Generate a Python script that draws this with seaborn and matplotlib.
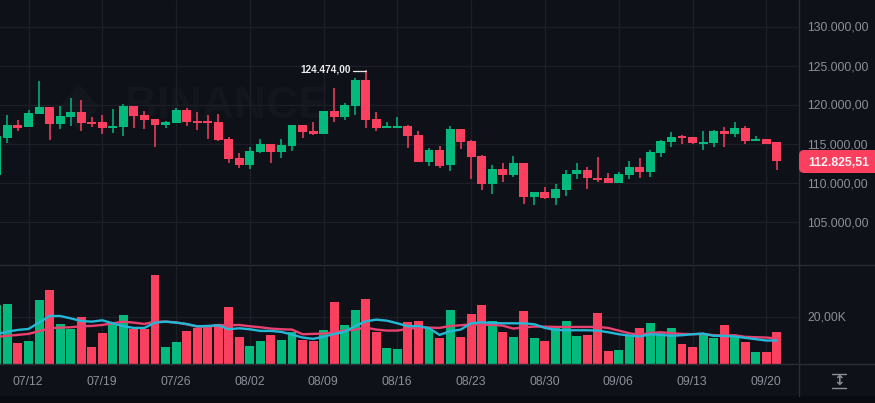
import numpy as np
import pandas as pd
import matplotlib.pyplot as plt
from matplotlib.patches import FancyBboxPatch, Polygon
import seaborn as sns

# dados (BTC diario)
opens = [111030, 115812, 117478, 117222, 118846, 119744, 117607, 118419, 119060, 117863,
         117778, 117094, 117179, 119872, 118675, 118248, 117393, 117735, 119359, 117948,
         117906, 117778, 115683, 113248, 112350, 114017, 115000, 113974, 114786, 117436,
         116624, 116282, 119231, 118462, 119914, 123206, 118205, 117051, 117051, 117350,
         116153, 112692, 114230, 112307, 116880, 115384, 113418, 109914, 111751, 111025,
         112521, 108247, 108802, 108120, 109101, 111110, 111623, 110683, 110597, 110042,
         110982, 112008, 111409, 113803, 115299, 115982, 115854, 115042, 115170, 116709,
         116239, 117008, 115384, 115640, 115213]
closes = [116000, 117436, 117094, 118932, 119744, 117607, 118547, 119060, 117735, 117607,
          117094, 117265, 119872, 118547, 118120, 117436, 117820, 119359, 117863, 117735,
          117650, 115512, 113076, 112307, 114145, 115000, 113974, 114914, 117436, 116495,
          116239, 119231, 118462, 120043, 123206, 118077, 117094, 117308, 117308, 116025,
          112692, 114273, 112221, 116880, 115256, 113333, 109914, 111751, 111068, 112521,
          108247, 108802, 108120, 109187, 111196, 111666, 110597, 110426, 110000, 111110,
          112008, 111367, 113931, 115384, 115940, 115726, 115085, 115256, 116709, 116282,
          117008, 115427, 115598, 115042, 112825]
highs = [116000, 118718, 118077, 119359, 123077, 119744, 119915, 120855, 120641, 118419,
         118718, 119487, 120086, 119872, 119274, 118248, 117991, 119573, 119658, 119103,
         118675, 118846, 115854, 113888, 114658, 115641, 115000, 115641, 117436, 117436,
         117820, 119231, 122180, 120214, 123505, 124474, 119103, 117820, 118504, 117436,
         116624, 114444, 114743, 117350, 116880, 115512, 113589, 112307, 112606, 113461,
         112521, 108802, 109443, 109871, 111666, 112521, 112093, 113375, 111238, 111409,
         112820, 113247, 114230, 115512, 116495, 116196, 115940, 116666, 116794, 117136,
         117777, 117307, 116025, 115640, 115213]
lows = [111030, 115085, 116709, 117137, 118800, 115512, 116880, 117350, 116709, 117137,
        116282, 116367, 116025, 117094, 116923, 114572, 117051, 117735, 117308, 116795,
        115683, 115385, 112606, 111880, 111750, 113800, 112520, 113205, 114145, 115726,
        116153, 116282, 117820, 118077, 118675, 117051, 116624, 117051, 117051, 114487,
        112692, 112179, 111923, 111538, 114401, 110469, 109102, 108589, 110170, 110811,
        107306, 107178, 107905, 107178, 108332, 110469, 109272, 110170, 109956, 110042,
        110512, 110640, 110811, 113290, 114658, 115000, 115000, 114230, 114658, 114572,
        115940, 115000, 115384, 115042, 111666]
volumes = [24930, 25630, 8870, 9860, 27030, 31680, 17040, 15070, 20000, 7040,
           13240, 16900, 20840, 14780, 15070, 37730, 7320, 9570, 14220, 15350,
           15770, 16900, 24220, 11690, 7740, 10000, 12250, 10140, 13660, 10280,
           9860, 14500, 26330, 16760, 23090, 27740, 13660, 6760, 6340, 17880,
           18160, 15070, 11120, 22950, 11550, 21120, 24920, 18300, 13660, 11400,
           22530, 10980, 9860, 16190, 18440, 12110, 12530, 21540, 5490, 6050,
           12250, 15490, 17460, 13380, 15350, 8590, 7180, 12670, 11120, 16760,
           11970, 9290, 5210, 4930, 13660]
ma_cyan = [12670, 13800, 14500, 14920, 17600, 20420, 20420, 19430, 18300, 18020,
           18590, 17320, 16050, 15350, 15350, 17600, 18020, 17600, 17040, 16050,
           16190, 16470, 14780, 15210, 14780, 14080, 14080, 13660, 12530, 11260,
           10700, 11550, 12810, 13660, 16190, 18160, 18870, 18440, 17320, 16050,
           16190, 15210, 12390, 13940, 14640, 17320, 17740, 17460, 17320, 17320,
           17320, 16900, 15350, 14500, 14360, 14360, 14360, 14220, 13520, 12670,
           12110, 11690, 12670, 12390, 11970, 12250, 12670, 12950, 11970, 11970,
           11690, 11120, 10560, 10000, 10000]
ma_pink = [11550, 11970, 12390, 12810, 13940, 15210, 15490, 15630, 16050, 16190,
           16610, 17320, 18020, 17600, 17040, 18020, 18020, 17740, 16900, 15910,
           15770, 16610, 16470, 16610, 16050, 15630, 15070, 14780, 14640, 12670,
           12810, 12950, 13520, 14220, 14640, 15490, 14640, 14220, 14220, 14920,
           15490, 15490, 15350, 16190, 16470, 16900, 16760, 16610, 16330, 15070,
           15630, 15910, 15910, 15770, 15770, 15770, 15770, 15770, 15350, 14220,
           13090, 12390, 13240, 13520, 13090, 12810, 12670, 12810, 12250, 12110,
           12250, 11550, 11400, 11260, 10840]

price_ticks = [105000, 110000, 115000, 120000, 125000, 130000]
price_labels = ['105.000,00', '110.000,00', '115.000,00', '120.000,00', '125.000,00', '130.000,00']
date_ticks = ['07/12', '07/19', '07/26', '08/02', '08/09', '08/16', '08/23', '08/30', '09/06', '09/13', '09/20']

BG = '#0f1118'
GRID = '#1c1f27'
SEP = '#2a2d36'
TXT = '#8b8f98'
UP = '#03b97c'
DOWN = '#fb3f5e'
MARK = '#14161d'

W, H = 875, 403
sns.set_theme(style='dark', rc={'axes.facecolor': BG, 'figure.facecolor': BG})
plt.rcParams['font.family'] = ['Liberation Sans', 'DejaVu Sans']

dates = pd.date_range('2025-07-09', periods=len(opens))
df = pd.DataFrame({'date': dates, 'day': np.arange(len(opens)), 'open': opens, 'close': closes,
                   'high': highs, 'low': lows, 'volume': volumes,
                   'ma_cyan': ma_cyan, 'ma_pink': ma_pink})
df['dir'] = np.where(df['close'] >= df['open'], 'up', 'down')
colors = df['dir'].map({'up': UP, 'down': DOWN})

fig = plt.figure(figsize=(W / 100, H / 100), dpi=100)
ax_p = fig.add_axes([0, 1 - 264 / H, 798 / W, 264 / H])
ax_v = fig.add_axes([0, 1 - 364 / H, 798 / W, 99 / H], sharex=ax_p)


def fx(x):
    return x / W


def fy(y):
    return 1 - y / H


# marca d'agua atras do grafico
ax_p.patch.set_alpha(0)
ax_v.patch.set_alpha(0)
fig.add_artist(Polygon([(fx(79), fy(84)), (fx(99), fy(107)), (fx(79), fy(131)), (fx(59), fy(107))],
                       closed=True, fc=MARK, ec='none', transform=fig.transFigure, zorder=-1))
fig.text(fx(125), fy(106), 'BINANCE', color=MARK, fontsize=32, fontweight='bold',
         va='center', ha='left', zorder=-1)

# dia 3 (07/12) fica em x=28.5 px, 10.54 px por dia
px_day = 10.54
xlim = (3 - 28.5 / px_day, 3 + (798 - 28.5) / px_day)
tick_pos = df.loc[df['date'].dt.strftime('%m/%d').isin(date_ticks), 'day'].to_numpy()

# velas
ax_p.vlines(df['day'], df['low'], df['high'], colors=colors, lw=1.1, zorder=3)
ax_p.bar(df['day'], np.maximum(np.abs(df['close'] - df['open']), 130),
         bottom=df[['open', 'close']].min(axis=1), width=0.85, color=colors,
         edgecolor='none', linewidth=0, zorder=4)
ax_p.set_ylim(130000 - (264 - 27) / 39 * 5000, 130000 + 27 / 39 * 5000)
ax_p.set_yticks(price_ticks)
ax_p.set_xlim(xlim)

# volume
sns.barplot(data=df, x='day', y='volume', hue='dir', palette={'up': UP, 'down': DOWN},
            native_scale=True, dodge=False, width=0.85, legend=False, ax=ax_v,
            saturation=1, zorder=3, linewidth=0, edgecolor='none')
sns.lineplot(data=df, x='day', y='ma_pink', color='#e8406f', lw=1.7, ax=ax_v, zorder=4)
sns.lineplot(data=df, x='day', y='ma_cyan', color='#22b8d6', lw=1.7, ax=ax_v, zorder=5)
ax_v.set_ylim(0, 99 / 47 * 20000)
ax_v.set_yticks([20000])
ax_v.set_xlim(xlim)
ax_v.set_xticks(tick_pos)

for ax in (ax_p, ax_v):
    ax.grid(True, color=GRID, lw=1)
    ax.set_axisbelow(True)
    ax.set_xlabel('')
    ax.set_ylabel('')
    ax.tick_params(left=False, bottom=False, labelleft=False, labelbottom=False)
    for s in ax.spines.values():
        s.set_visible(False)

# separadores e eixos em pixels da figura
for y in (264.5, 364):
    fig.add_artist(plt.Line2D([0, 1], [fy(y), fy(y)], color=SEP, lw=1))
fig.add_artist(plt.Line2D([fx(798.5), fx(798.5)], [fy(0), fy(396)], color=SEP, lw=1))
fig.add_artist(plt.Rectangle((0, 0), 1, 7 / H, color='#0a0b10', lw=0))

for v, lab in zip(price_ticks, price_labels):
    y_px = ax_p.transData.transform((0, v))[1]
    fig.text(fx(807), (y_px - 1) / H, lab, color=TXT, fontsize=8.8, va='center', ha='left')
fig.text(fx(807), fy(317), '20,00K', color=TXT, fontsize=8.7, va='center', ha='left')
for p, lab in zip(tick_pos, date_ticks):
    x_px = ax_v.transData.transform((p, 0))[0]
    fig.text((x_px - 0.5) / W, fy(382), lab, color=TXT, fontsize=8.8, va='center', ha='center')

# maximo
fig.text(fx(351), fy(70), '124.474,00', color='#e8eaed', fontsize=7.2, fontweight='bold',
         va='center', ha='right')
fig.add_artist(plt.Line2D([fx(353), fx(366)], [fy(71), fy(71)], color='#e8eaed', lw=0.9))

# preco atual
fig.add_artist(FancyBboxPatch((fx(799), fy(173)), 90 / W, 23 / H, boxstyle='round,pad=0,rounding_size=0.006',
                              transform=fig.transFigure, fc=DOWN, ec='none', mutation_aspect=W / H, zorder=5))
fig.text(fx(808), fy(163), '112.825,51', color='#fff1f3', fontsize=8.8, fontweight='bold',
         va='center', ha='left', zorder=6)

# icone auto escala
for y in (374, 388):
    fig.add_artist(plt.Line2D([fx(832), fx(846)], [fy(y), fy(y)], color=TXT, lw=1))
fig.text(fx(839), fy(381), '↕', color=TXT, fontsize=10, fontweight='bold', va='center', ha='center',
         fontfamily='DejaVu Sans')

fig.savefig('out.png', dpi=100, facecolor=BG)
